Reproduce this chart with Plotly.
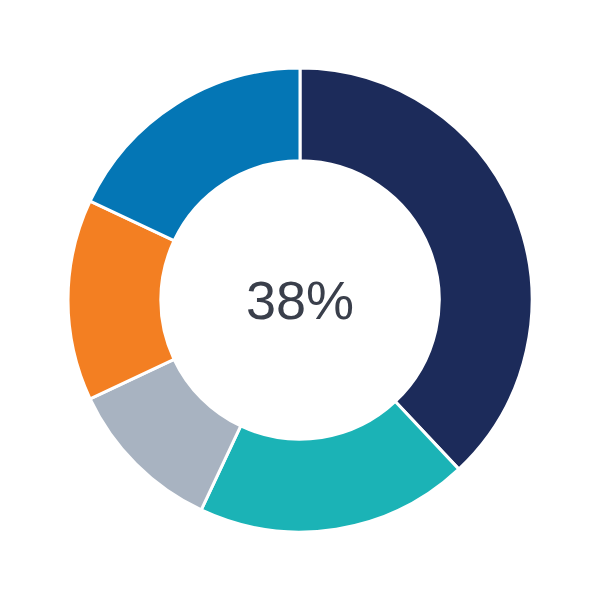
import plotly.graph_objects as go

# segment shares, clockwise from 12 o'clock
labels = ["Segment A", "Segment B", "Segment C", "Segment D", "Segment E"]
values = [38, 19, 11, 14, 18]
colors = ["#1c2b5a", "#1bb3b6", "#a8b3c1", "#f37f22", "#0476b5"]
center_label = "38%"

fig = go.Figure(
    go.Pie(
        labels=labels,
        values=values,
        hole=0.6,
        sort=False,
        direction="clockwise",
        rotation=0,
        marker=dict(colors=colors, line=dict(color="white", width=3)),
        textinfo="none",
        hoverinfo="label+percent",
    )
)

# page body adds 8px offset, so margins are uneven to keep the ring centred
fig.update_layout(
    width=600,
    height=600,
    showlegend=False,
    margin=dict(l=60, r=76, t=60, b=76),
    paper_bgcolor="white",
    plot_bgcolor="white",
    annotations=[
        dict(
            text=center_label,
            x=0.5,
            y=0.5,
            xref="paper",
            yref="paper",
            showarrow=False,
            font=dict(family="Liberation Sans, Arial, sans-serif", size=54, color="#3a3f4b"),
        )
    ],
)

fig.write_html("out.html")
